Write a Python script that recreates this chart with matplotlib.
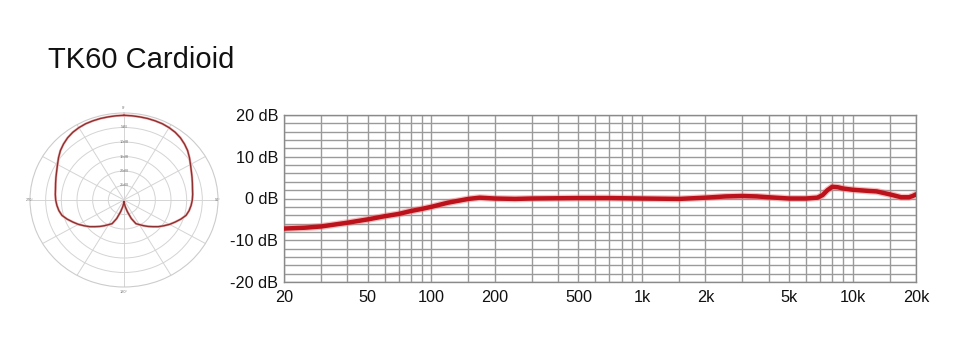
import numpy as np
import matplotlib
matplotlib.use("Agg")
import matplotlib.pyplot as plt
from matplotlib.ticker import FixedLocator, NullFormatter

plt.rcParams['font.family'] = ['Liberation Sans', 'DejaVu Sans']

# ---------------- data ----------------
title = "TK60 Cardioid"

# frequency response (Hz, dB)
freq_hz = [20, 25, 30, 40, 50, 60, 70, 80, 90, 100, 120, 150, 170, 200, 250, 300,
           500, 700, 1000, 1500, 2000, 2500, 3000, 3500, 4000, 5000, 6000, 6800,
           7200, 7600, 8000, 8500, 9000, 10000, 12000, 13000, 15000, 17000, 18500,
           19300, 20000]
level_db = [-7.2, -7.0, -6.7, -5.8, -5.0, -4.25, -3.7, -3.0, -2.5, -2.0, -1.0, -0.1,
            0.2, 0.0, -0.1, 0.0, 0.1, 0.1, 0.0, -0.1, 0.2, 0.5, 0.6, 0.5, 0.3, 0.0,
            0.0, 0.2, 0.8, 2.0, 2.8, 2.7, 2.4, 2.1, 1.8, 1.7, 1.0, 0.3, 0.3,
            0.6, 1.0]

x_major = [20, 50, 100, 200, 500, 1000, 2000, 5000, 10000, 20000]
x_major_labels = ["20", "50", "100", "200", "500", "1k", "2k", "5k", "10k", "20k"]
x_minor = [30, 40, 60, 70, 80, 90, 150, 300, 400, 600, 700, 800, 900, 1500,
           3000, 4000, 6000, 7000, 8000, 9000, 15000]
y_major = [-20, -10, 0, 10, 20]
y_major_labels = ["-20 dB", "-10 dB", "0 dB", "10 dB", "20 dB"]
y_minor = [-18, -16, -14, -12, -8, -6, -4, -2, 2, 4, 6, 8, 12, 14, 16, 18]

# polar pattern (half, 0..180 deg), mirrored for the other side
polar_angle_half = [0, 5, 10, 15, 20, 25, 30, 35, 40, 45, 50, 55, 60, 65, 70, 75,
                    80, 85, 90, 95, 100, 105, 110, 115, 120, 125, 130, 135, 140,
                    145, 150, 155, 160, 165, 170, 175, 180]
polar_db_half = [-0.8, -0.85, -0.9, -0.9, -0.95, -1.0, -1.2, -1.5, -2.0, -2.7, -3.5,
                 -4.5, -5.5, -6.3, -6.9, -7.4, -7.8, -8.0, -8.2, -8.5, -8.9, -9.5,
                 -10.7, -12.0, -13.2, -14.5, -15.7, -17.0, -18.1, -19.2, -20.2,
                 -21.0, -23.2, -25.8, -27.6, -28.8, -29.5]
polar_rings = [-25, -20, -15, -10, -5]
polar_ring_labels = ["25dB", "20dB", "15dB", "10dB", "5dB"]
polar_angle_labels = {0: "0°", 90: "90°", 180: "180°", 270: "270°"}

# ---------------- figure ----------------
W, H = 960, 357
fig = plt.figure(figsize=(W / 100, H / 100), dpi=100)
fig.patch.set_facecolor("white")

fig.text(48 / W, 1 - 68 / H, title, fontsize=21, color="#111111",
         ha="left", va="baseline")

# frequency response axes
ax = fig.add_axes([284 / W, 1 - 282 / H, (916 - 284) / W, (282 - 115) / H])
ax.set_xscale("log")
ax.set_xlim(20, 20000)
ax.set_ylim(-20, 20)
ax.xaxis.set_major_locator(FixedLocator(x_major))
ax.set_xticklabels(x_major_labels)
ax.xaxis.set_minor_locator(FixedLocator(x_minor))
ax.xaxis.set_minor_formatter(NullFormatter())
ax.yaxis.set_major_locator(FixedLocator(y_major))
ax.set_yticklabels(y_major_labels)
ax.yaxis.set_minor_locator(FixedLocator(y_minor))
ax.grid(True, which="both", color="#9a9a9a", linewidth=1.0)
ax.set_axisbelow(True)
ax.tick_params(which="both", length=0)
ax.tick_params(axis="x", pad=5.5, labelsize=11.7, labelcolor="#111111")
ax.tick_params(axis="y", pad=4.3, labelsize=11.7, labelcolor="#111111")
for s in ax.spines.values():
    s.set_color("#8a8a8a")
    s.set_linewidth(1.0)

ax.plot(freq_hz, level_db, color="#f07070", linewidth=5.0, alpha=0.45,
        solid_capstyle="round", solid_joinstyle="round", zorder=3)
ax.plot(freq_hz, level_db, color="#bc121c", linewidth=3.2,
        solid_capstyle="round", solid_joinstyle="round", zorder=4)

# polar axes
cx, cy, rx, ry = 124, 200, 94, 87
pax = fig.add_axes([(cx - rx) / W, 1 - (cy + ry) / H, 2 * rx / W, 2 * ry / H],
                   projection="polar")
pax.set_aspect("auto")
pax.set_theta_zero_location("N")
pax.set_theta_direction(-1)
pax.set_rlim(-30, 0)
pax.set_thetagrids(list(range(0, 360, 30)), labels=[""] * 12)
pax.set_rgrids(polar_rings, labels=[""] * len(polar_rings))
pax.grid(True, color="#d4d4d4", linewidth=0.7)
pax.spines["polar"].set_color("#cccccc")
pax.spines["polar"].set_linewidth(0.8)
pax.tick_params(length=0)

ang = polar_angle_half + [360 - a for a in polar_angle_half[::-1][1:]]
dbv = polar_db_half + polar_db_half[::-1][1:]
pax.plot(np.deg2rad(ang), dbv, color="#f0b0b0", linewidth=1.8, zorder=3,
         solid_joinstyle="round")
pax.plot(np.deg2rad(ang), dbv, color="#8c3030", linewidth=1.0, zorder=4,
         solid_joinstyle="round")

for r, lab in zip(polar_rings, polar_ring_labels):
    pax.text(0, r, lab, fontsize=2.8, color="#777777", ha="center", va="center",
             zorder=5)
for a, lab in polar_angle_labels.items():
    rr = 1.8 if a in (0, 180) else 0.0
    pax.text(np.deg2rad(a), rr, lab, fontsize=2.8, color="#777777",
             ha="center", va="center", clip_on=False, zorder=5)

fig.savefig("out.png", dpi=100, facecolor="white")
